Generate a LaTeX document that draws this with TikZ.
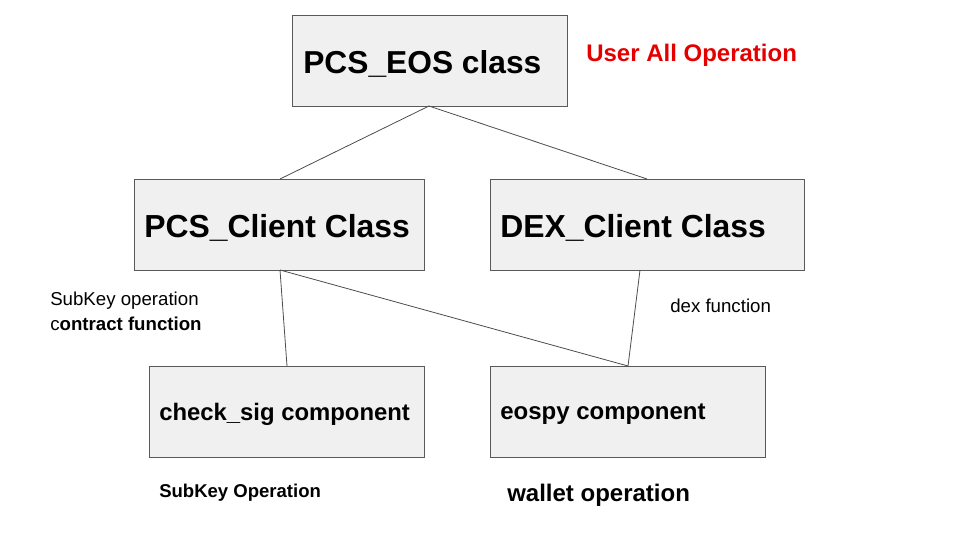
\documentclass[tikz,border=0pt]{standalone}
\usepackage{fontspec}
\setmainfont{Liberation Sans}
\begin{document}
\begin{tikzpicture}[x=0.75pt,y=-0.75pt,
  box/.style={draw=black!65,fill=black!6,line width=0.6pt},
  lbl/.style={inner sep=0pt,anchor=west},
  ln/.style={draw=black!70,line width=0.6pt}]
\useasboundingbox (0,0) rectangle (960,540);
\draw[box] (292,15) rectangle (567,106);
\node[lbl,font=\bfseries\fontsize{23.8}{28}\selectfont] (eos) at (303,64) {PCS\_EOS class};
\draw[box] (134,179) rectangle (424,270);
\node[lbl,font=\bfseries\fontsize{23.9}{28}\selectfont] (pc) at (144,228) {PCS\_Client Class};
\draw[box] (490,179) rectangle (804,270);
\node[lbl,font=\bfseries\fontsize{23.9}{28}\selectfont] (dc) at (500,228) {DEX\_Client Class};
\draw[box] (149,366) rectangle (424,457);
\node[lbl,font=\bfseries\fontsize{17.9}{21}\selectfont] (cs) at (159,414) {check\_sig component};
\draw[box] (490,366) rectangle (765,457);
\node[lbl,font=\bfseries\fontsize{18}{21}\selectfont] (ep) at (500,414) {eospy component};
\coordinate (a) at (429,106);
\coordinate (b) at (280,179);
\coordinate (c) at (647,179);
\coordinate (d) at (280,270);
\coordinate (e) at (287,366);
\coordinate (f) at (628,366);
\coordinate (g) at (640,270);
\draw[ln] (a) -- (b);
\draw[ln] (a) -- (c);
\draw[ln] (d) -- (e);
\draw[ln] (d) -- (f);
\draw[ln] (g) -- (f);
\node[lbl,text=red!90!black,font=\bfseries\fontsize{18}{21}\selectfont] (u) at (586,55) {User All Operation};
\node[lbl,font=\fontsize{14}{16}\selectfont] (s1) at (50,301) {SubKey operation};
\node[lbl,font=\fontsize{14}{16}\selectfont] (s2) at (50,324) {c\textbf{ontract function}};
\node[lbl,font=\fontsize{14}{16}\selectfont] (df) at (670,306) {dex function};
\node[lbl,font=\bfseries\fontsize{13.9}{16}\selectfont] (so) at (159,493) {SubKey Operation};
\node[lbl,font=\bfseries\fontsize{18}{21}\selectfont] (wo) at (507,495) {wallet operation};
\end{tikzpicture}
\end{document}
